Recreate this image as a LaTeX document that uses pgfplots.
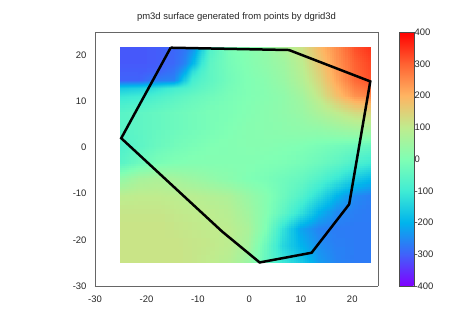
\documentclass[border=0pt]{standalone}
\usepackage{pgfplots}
\pgfplotsset{compat=1.18}
\usepgfplotslibrary{patchplots}
\usepackage{fontspec}
\setmainfont{Liberation Sans}
\begin{document}
\begin{tikzpicture}
\begin{axis}[
  name=main,
  view={0}{90},
  width=283bp, height=254bp, scale only axis,
  xmin=-30, xmax=25, ymin=-30, ymax=25,
  xtick={-30,-20,...,20}, ytick={-30,-20,...,20}, ztick=\empty,
  major tick length=0pt,
  axis line style={black!60, line width=0.8bp},
  tick label style={font=\fontsize{9.5}{11}\selectfont, text=black!85},
  xticklabel style={yshift=-6bp},
  yticklabel style={xshift=-5bp},
  /pgf/number format/assume math mode=true,
  title={pm3d surface generated from points by dgrid3d},
  title style={font=\fontsize{9.5}{11}\selectfont, text=black!85, yshift=1bp},
  colormap={gp}{rgb255=(128,0,255) rgb255=(64,98,250) rgb255=(0,180,236) rgb255=(64,236,212) rgb255=(128,255,180) rgb255=(191,236,142) rgb255=(255,180,98) rgb255=(255,98,50) rgb255=(255,0,0)},
  point meta min=-400, point meta max=400,
  colorbar,
  colorbar style={
    at={(parent axis.north east)}, anchor=north west, xshift=13bp,
    width=14.5bp,
    ytick={-400,-300,...,400},
    major tick length=0pt,
    axis line style={black!70, line width=0.6bp},
    tick label style={font=\fontsize{9.5}{11}\selectfont, text=black!85},
    yticklabel style={xshift=-3bp},
    /pgf/number format/assume math mode=true,
  },
]
\addplot3[surf, shader=interp, patch type=bilinear] coordinates {
(-25,-25,115) (-21.5,-25,115) (-18,-25,115) (-14.5,-25,115) (-12.75,-25,112) (-11,-25,110) (-9.25,-25,105) (-7.5,-25,100) (-4,-25,85) (-0.5,-25,45) (3,-25,-40) (6.5,-25,-110) (10,-25,-165) (13.5,-25,-230) (17,-25,-260) (20.5,-25,-270) (23.5,-25,-270)

(-25,-21.4,115) (-21.5,-21.4,115) (-18,-21.4,115) (-14.5,-21.4,115) (-12.75,-21.4,112) (-11,-21.4,110) (-9.25,-21.4,108) (-7.5,-21.4,105) (-4,-21.4,95) (-0.5,-21.4,60) (3,-21.4,-30) (6.5,-21.4,-140) (10,-21.4,-200) (13.5,-21.4,-245) (17,-21.4,-265) (20.5,-21.4,-270) (23.5,-21.4,-270)

(-25,-17.8,115) (-21.5,-17.8,115) (-18,-17.8,115) (-14.5,-17.8,110) (-12.75,-17.8,108) (-11,-17.8,105) (-9.25,-17.8,102) (-7.5,-17.8,100) (-4,-17.8,95) (-0.5,-17.8,70) (3,-17.8,0) (6.5,-17.8,-120) (10,-17.8,-220) (13.5,-17.8,-260) (17,-17.8,-270) (20.5,-17.8,-270) (23.5,-17.8,-270)

(-25,-14.2,110) (-21.5,-14.2,110) (-18,-14.2,110) (-14.5,-14.2,105) (-12.75,-14.2,102) (-11,-14.2,100) (-9.25,-14.2,98) (-7.5,-14.2,95) (-4,-14.2,85) (-0.5,-14.2,55) (3,-14.2,10) (6.5,-14.2,-50) (10,-14.2,-120) (13.5,-14.2,-200) (17,-14.2,-250) (20.5,-14.2,-265) (23.5,-14.2,-270)

(-25,-10.6,95) (-21.5,-10.6,100) (-18,-10.6,100) (-14.5,-10.6,95) (-12.75,-10.6,92) (-11,-10.6,90) (-9.25,-10.6,85) (-7.5,-10.6,80) (-4,-10.6,70) (-0.5,-10.6,40) (3,-10.6,10) (6.5,-10.6,-30) (10,-10.6,-70) (13.5,-10.6,-130) (17,-10.6,-200) (20.5,-10.6,-250) (23.5,-10.6,-265)

(-25,-7,30) (-21.5,-7,60) (-18,-7,70) (-14.5,-7,60) (-12.75,-7,52) (-11,-7,45) (-9.25,-7,38) (-7.5,-7,30) (-4,-7,15) (-0.5,-7,0) (3,-7,-10) (6.5,-7,-25) (10,-7,-40) (13.5,-7,-70) (17,-7,-110) (20.5,-7,-160) (23.5,-7,-190)

(-25,-3.4,-60) (-21.5,-3.4,-30) (-18,-3.4,-10) (-14.5,-3.4,0) (-12.75,-3.4,2) (-11,-3.4,5) (-9.25,-3.4,5) (-7.5,-3.4,5) (-4,-3.4,5) (-0.5,-3.4,5) (3,-3.4,0) (6.5,-3.4,-5) (10,-3.4,-15) (13.5,-3.4,-30) (17,-3.4,-50) (20.5,-3.4,-80) (23.5,-3.4,-100)

(-25,0.2,-75) (-21.5,0.2,-55) (-18,0.2,-35) (-14.5,0.2,-20) (-12.75,0.2,-15) (-11,0.2,-10) (-9.25,0.2,-5) (-7.5,0.2,0) (-4,0.2,5) (-0.5,0.2,10) (3,0.2,10) (6.5,0.2,5) (10,0.2,0) (13.5,0.2,-10) (17,0.2,-20) (20.5,0.2,-30) (23.5,0.2,-40)

(-25,3.8,-60) (-21.5,3.8,-50) (-18,3.8,-40) (-14.5,3.8,-30) (-12.75,3.8,-25) (-11,3.8,-20) (-9.25,3.8,-15) (-7.5,3.8,-10) (-4,3.8,0) (-0.5,3.8,10) (3,3.8,15) (6.5,3.8,20) (10,3.8,25) (13.5,3.8,30) (17,3.8,45) (20.5,3.8,60) (23.5,3.8,65)

(-25,7.4,-60) (-21.5,7.4,-50) (-18,7.4,-40) (-14.5,7.4,-30) (-12.75,7.4,-25) (-11,7.4,-20) (-9.25,7.4,-15) (-7.5,7.4,-10) (-4,7.4,-5) (-0.5,7.4,5) (3,7.4,15) (6.5,7.4,25) (10,7.4,40) (13.5,7.4,70) (17,7.4,100) (20.5,7.4,130) (23.5,7.4,140)

(-25,11,-110) (-21.5,11,-100) (-18,11,-80) (-14.5,11,-60) (-12.75,11,-50) (-11,11,-40) (-9.25,11,-32) (-7.5,11,-25) (-4,11,-10) (-0.5,11,0) (3,11,10) (6.5,11,25) (10,11,55) (13.5,11,110) (17,11,180) (20.5,11,240) (23.5,11,260)

(-25,12.8,-160) (-21.5,12.8,-150) (-18,12.8,-120) (-14.5,12.8,-90) (-12.75,12.8,-80) (-11,12.8,-65) (-9.25,12.8,-50) (-7.5,12.8,-38) (-4,12.8,-15) (-0.5,12.8,0) (3,12.8,12) (6.5,12.8,32) (10,12.8,68) (13.5,12.8,125) (17,12.8,200) (20.5,12.8,265) (23.5,12.8,290)

(-25,14.6,-300) (-21.5,14.6,-300) (-18,14.6,-270) (-14.5,14.6,-260) (-12.75,14.6,-170) (-11,14.6,-90) (-9.25,14.6,-65) (-7.5,14.6,-48) (-4,14.6,-20) (-0.5,14.6,0) (3,14.6,15) (6.5,14.6,40) (10,14.6,80) (13.5,14.6,140) (17,14.6,220) (20.5,14.6,290) (23.5,14.6,320)

(-25,16.4,-305) (-21.5,16.4,-305) (-18,16.4,-300) (-14.5,16.4,-275) (-12.75,16.4,-225) (-11,16.4,-130) (-9.25,16.4,-80) (-7.5,16.4,-48) (-4,16.4,-18) (-0.5,16.4,2) (3,16.4,20) (6.5,16.4,45) (10,16.4,88) (13.5,16.4,152) (17,16.4,230) (20.5,16.4,295) (23.5,16.4,325)

(-25,18.2,-310) (-21.5,18.2,-310) (-18,18.2,-305) (-14.5,18.2,-290) (-12.75,18.2,-265) (-11,18.2,-200) (-9.25,18.2,-110) (-7.5,18.2,-50) (-4,18.2,-15) (-0.5,18.2,5) (3,18.2,25) (6.5,18.2,50) (10,18.2,95) (13.5,18.2,165) (17,18.2,240) (20.5,18.2,300) (23.5,18.2,330)

(-25,21.6,-310) (-21.5,21.6,-310) (-18,21.6,-305) (-14.5,21.6,-295) (-12.75,21.6,-280) (-11,21.6,-250) (-9.25,21.6,-160) (-7.5,21.6,-70) (-4,21.6,-10) (-0.5,21.6,10) (3,21.6,30) (6.5,21.6,70) (10,21.6,120) (13.5,21.6,190) (17,21.6,250) (20.5,21.6,320) (23.5,21.6,350)
};
\addplot3[black, line width=2.5bp, mark=none, line join=miter] coordinates {
(-15.3,21.6,0) (7.7,21.1,0) (23.5,14.3,0) (19.4,-12.3,0) (12.1,-22.8,0) (2.0,-24.9,0) (-5.3,-18.2,0) (-24.9,2.0,0) (-15.3,21.6,0)
};
\end{axis}
\path (main.south west) ++(-95bp,-30bp) rectangle ++(474bp,316bp);
\end{tikzpicture}
\end{document}
